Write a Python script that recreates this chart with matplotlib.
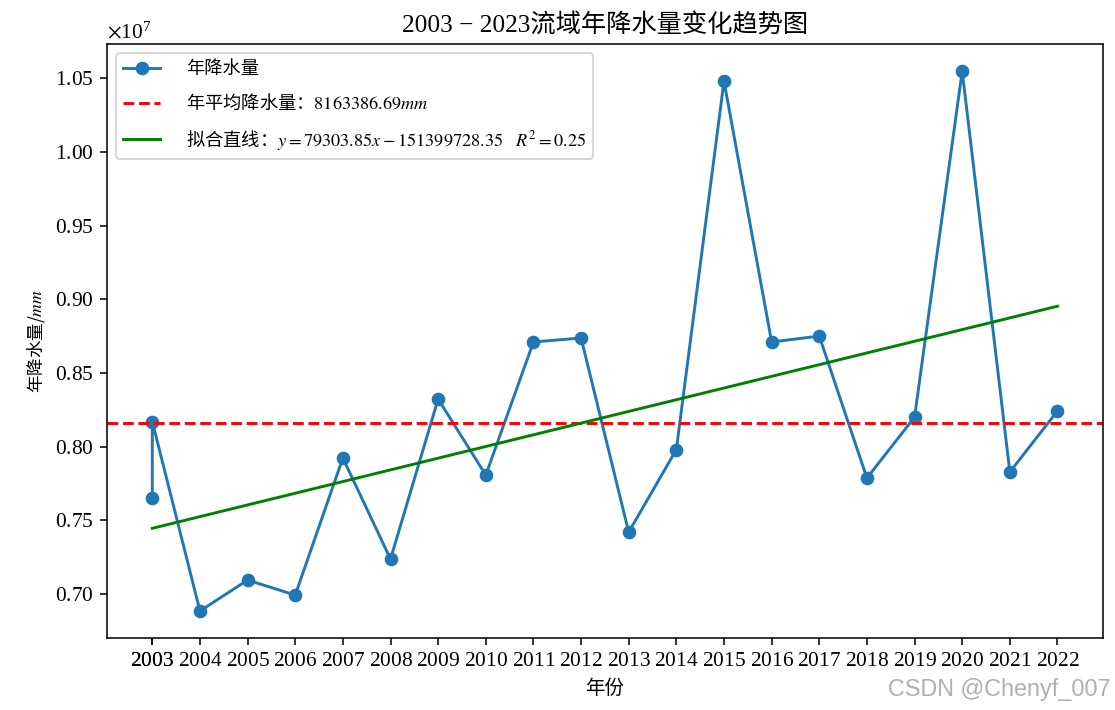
import matplotlib
matplotlib.use('Agg')
import matplotlib.pyplot as plt
from matplotlib import rcParams
import numpy as np

# font settings (Times-like serif + CJK fallback)
rcParams['font.family'] = ['Liberation Serif', 'Noto Sans CJK SC', 'DejaVu Serif']
rcParams['mathtext.fontset'] = 'stix'
rcParams['axes.formatter.use_mathtext'] = True
rcParams['xtick.labelsize'] = 11
rcParams['ytick.labelsize'] = 11
cjk = ['Noto Sans CJK SC']

# data (first year appears twice in the original)
years = [2003, 2003, 2004, 2005, 2006, 2007, 2008, 2009, 2010, 2011, 2012,
         2013, 2014, 2015, 2016, 2017, 2018, 2019, 2020, 2021, 2022]
precip = [7650000, 8170000, 6885000, 7095000, 6993000, 7923000, 7237000,
          8323000, 7807000, 8710000, 8737000, 7420000, 7980000, 10480000,
          8710000, 8750000, 7787000, 8200000, 10548000, 7828000, 8242000]

mean_precip = 8163386.69
slope = 79303.85
intercept = -151399728.35
r2 = 0.25

dpi = 140
fig, ax = plt.subplots(figsize=(1115 / dpi, 710 / dpi), dpi=dpi)
fig.subplots_adjust(left=0.096, right=0.989, bottom=0.1014, top=0.938)

ax.plot(years, precip, marker='o', label='年降水量')
ax.axhline(mean_precip, color='r', linestyle='--',
           label=f'年平均降水量：${mean_precip:.2f}mm$')

fit_x = np.array([years[0], years[-1]])
fit_y = slope * fit_x + intercept
ax.plot(fit_x, fit_y, color='g',
        label=f'拟合直线：$y={slope:.2f}x-{abs(intercept):.2f}\\quad R^2={r2:.2f}$')

ax.set_xticks(years)
ax.set_xlabel('年份', family=cjk, fontsize=10)
ax.set_ylabel('年降水量/$mm$', family=cjk, fontsize=9)
ax.set_title('2003 \u2212 2023流域年降水量变化趋势图', fontsize=13)
ax.legend(loc='upper left', prop={'family': cjk, 'size': 9.4},
          labelspacing=0.8, handletextpad=1.4)

# watermark
fig.text(0.996, 0.012, 'CSDN @Chenyf_007', ha='right', va='bottom',
         color='#b0b0b0', fontsize=12, family='Liberation Sans')

plt.savefig('out.png', dpi=dpi)
plt.close()
